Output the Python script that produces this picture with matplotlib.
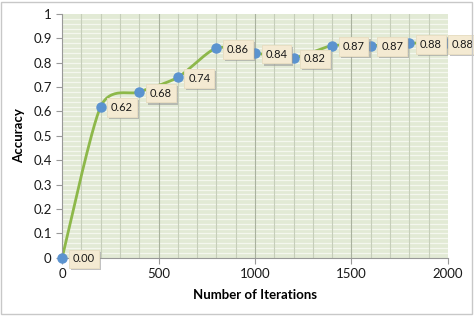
import numpy as np
import matplotlib
matplotlib.use("Agg")
import matplotlib.pyplot as plt
from matplotlib.patches import Rectangle
import matplotlib.patheffects as pe

iterations = [0, 200, 400, 600, 800, 1000, 1200, 1400, 1600, 1800, 2000]
accuracy = [0.00, 0.62, 0.68, 0.74, 0.86, 0.84, 0.82, 0.87, 0.87, 0.88, 0.88]
x_ticks = [0, 500, 1000, 1500, 2000]
y_ticks = [0, 0.1, 0.2, 0.3, 0.4, 0.5, 0.6, 0.7, 0.8, 0.9, 1]
y_tick_labels = ["0", "0.1", "0.2", "0.3", "0.4", "0.5", "0.6", "0.7", "0.8", "0.9", "1"]

plt.rcParams['font.family'] = ['Lato', 'DejaVu Sans']

def smooth_curve(xs, ys, n=30, k=8.0):
    xs = np.asarray(xs, float); ys = np.asarray(ys, float)
    px = np.concatenate([[xs[0]], xs, [xs[-1]]])
    py = np.concatenate([[ys[0]], ys, [ys[-1]]])
    ox, oy = [], []
    t = np.linspace(0, 1, n)
    for i in range(1, len(px)-2):
        p0, p1, p2, p3 = [np.array([px[j], py[j]]) for j in (i-1, i, i+1, i+2)]
        c1 = p1 + (p2 - p0) / k
        c2 = p2 - (p3 - p1) / k
        b = ((1-t)**3)[:, None]*p1 + (3*(1-t)**2*t)[:, None]*c1 + (3*(1-t)*t**2)[:, None]*c2 + (t**3)[:, None]*p2
        ox.extend(b[:, 0]); oy.extend(b[:, 1])
    return np.array(ox), np.array(oy)

fig = plt.figure(figsize=(4.74, 3.16), dpi=100)
fig.patch.set_facecolor('white')
ax = fig.add_axes([0.131, 0.184, 0.814, 0.772])
ax.set_facecolor('#e2ead5')

# grid
for yv in np.arange(0.02, 1.0, 0.02):
    ax.axhline(yv, color='#f4f7ee', lw=0.9, zorder=0.5)
for xv in range(100, 2000, 100):
    col = '#aab29f' if xv % 500 == 0 else '#c6ceba'
    ax.axvline(xv, color=col, lw=0.8, zorder=0.6)

sx, sy = smooth_curve(iterations, accuracy)
ax.plot(sx, sy, color='#8db84a', lw=2.0, zorder=2, clip_on=False)
ax.plot(iterations, accuracy, 'o', color='#5b93cf', ms=6.5, mec='#5b93cf', zorder=3, clip_on=False)

n = len(iterations)
for i, (xv, yv) in enumerate(zip(iterations, accuracy)):
    dx = 3.0 if i == n - 1 else 7.5
    ax.annotate(f"{yv:.2f}", (xv, yv), xytext=(dx, -0.8), textcoords='offset points',
                ha='left', va='center', fontsize=8, color='#1a1a1a', zorder=5,
                annotation_clip=False,
                bbox=dict(boxstyle='square,pad=0.35', fc='#f4ead2', ec='#e6dcc0', lw=0.5,
                          path_effects=[pe.withSimplePatchShadow(offset=(1.5, -1.5), shadow_rgbFace='#9a9a9a', alpha=0.6), pe.Normal()]))

ax.set_xlim(0, 2000)
ax.set_ylim(0, 1)
ax.set_xticks(x_ticks)
ax.set_yticks(y_ticks)
ax.set_yticklabels(y_tick_labels)
ax.tick_params(axis='both', labelsize=9.5, length=4, width=0.8, colors='#1a1a1a')
ax.tick_params(axis='both', color='#999999')
for s in ['top', 'right']:
    ax.spines[s].set_visible(False)
ax.spines['left'].set_color('#999999')
ax.spines['bottom'].set_color('#999999')
ax.set_xlabel('Number of Iterations', fontsize=9.5, fontweight='bold', labelpad=6)
ax.set_ylabel('Accuracy', fontsize=9.5, fontweight='bold', labelpad=6)

fig.add_artist(Rectangle((0.003, 0.005), 0.993, 0.99, transform=fig.transFigure,
                         fill=False, ec='#c8c8c8', lw=1.0))

fig.savefig('out.png', dpi=100)
